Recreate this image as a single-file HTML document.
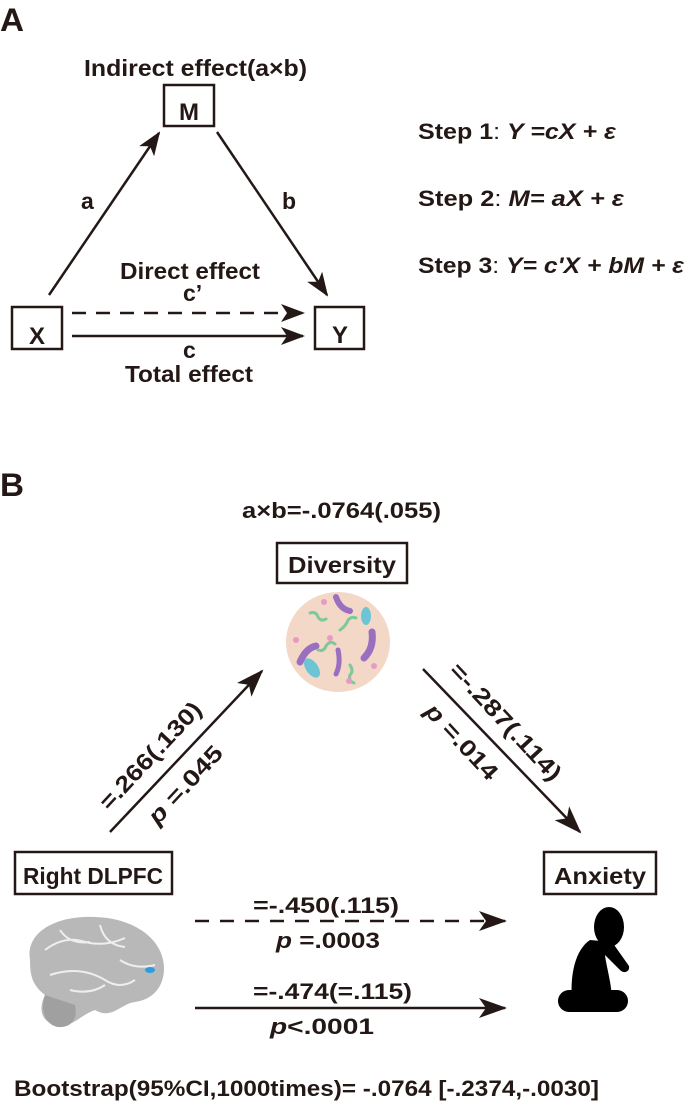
<!DOCTYPE html>
<html><head><meta charset="utf-8"><style>
html,body{margin:0;padding:0;background:#fff;}
svg{display:block;}
text{font-family:"Liberation Sans",sans-serif;font-weight:bold;fill:#231815;}
</style></head><body>
<svg width="685" height="1107" viewBox="0 0 685 1107" xmlns="http://www.w3.org/2000/svg">
<defs>
<marker id="ah" viewBox="0 0 24 18" refX="22" refY="9" markerWidth="24" markerHeight="18" markerUnits="userSpaceOnUse" orient="auto">
<path d="M0,0 L24,9 L0,18 L6,9 Z" fill="#231815"/>
</marker>
<marker id="ah2" viewBox="0 0 28 20" refX="26" refY="10" markerWidth="28" markerHeight="20" markerUnits="userSpaceOnUse" orient="auto">
<path d="M0,0 L28,10 L0,20 L7,10 Z" fill="#231815"/>
</marker>
</defs>
<g stroke="#231815" fill="none">
<text x="0" y="31" font-size="32" stroke="none" textLength="24" lengthAdjust="spacingAndGlyphs">A</text>
<rect x="164" y="85" width="50" height="41" stroke-width="2.5"/>
<rect x="12" y="307" width="50" height="42" stroke-width="2.5"/>
<rect x="315" y="307" width="49" height="42" stroke-width="2.5"/>
<line x1="49" y1="295" x2="159" y2="133" stroke-width="2.5" marker-end="url(#ah)"/>
<line x1="217" y1="132" x2="327" y2="295" stroke-width="2.5" marker-end="url(#ah)"/>
<line x1="72" y1="313" x2="303" y2="313" stroke-width="2.5" stroke-dasharray="14,10" marker-end="url(#ah)"/>
<line x1="72" y1="336" x2="303" y2="336" stroke-width="2.5" marker-end="url(#ah)"/>
</g>
<text x="84" y="76" font-size="23" textLength="223" lengthAdjust="spacingAndGlyphs">Indirect effect(a×b)</text>
<text x="189" y="120" font-size="24" text-anchor="middle" textLength="20" lengthAdjust="spacingAndGlyphs">M</text>
<text x="37" y="344" font-size="24" text-anchor="middle">X</text>
<text x="340" y="343" font-size="24" text-anchor="middle">Y</text>
<text x="81" y="209" font-size="23">a</text>
<text x="282" y="209" font-size="23">b</text>
<text x="120" y="279" font-size="23" textLength="140" lengthAdjust="spacingAndGlyphs">Direct effect</text>
<text x="183" y="301" font-size="23">c’</text>
<text x="183" y="358" font-size="23">c</text>
<text x="125" y="382" font-size="23" textLength="128" lengthAdjust="spacingAndGlyphs">Total effect</text>
<text x="418" y="139" font-size="22" textLength="198" lengthAdjust="spacingAndGlyphs">Step 1<tspan font-weight="normal">: </tspan><tspan font-style="italic">Y =cX  + ε</tspan></text>
<text x="418" y="206" font-size="22" textLength="206" lengthAdjust="spacingAndGlyphs">Step 2<tspan font-weight="normal">: </tspan><tspan font-style="italic">M=  aX + ε</tspan></text>
<text x="418" y="273" font-size="22" textLength="266" lengthAdjust="spacingAndGlyphs">Step 3<tspan font-weight="normal">:  </tspan><tspan font-style="italic">Y= c'X + bM + ε</tspan></text>

<text x="0" y="496" font-size="32" textLength="24" lengthAdjust="spacingAndGlyphs">B</text>
<text x="242" y="518" font-size="22" textLength="199" lengthAdjust="spacingAndGlyphs">a×b=-.0764(.055)</text>
<rect x="277" y="543" width="130" height="40" fill="none" stroke="#231815" stroke-width="2.5"/>
<text x="342" y="573" font-size="23" text-anchor="middle" textLength="108" lengthAdjust="spacingAndGlyphs">Diversity</text>
<ellipse cx="338" cy="642" rx="52" ry="50" fill="#f3d8c8"/>
<g stroke-linecap="round" fill="none">
<path d="M336,597 q4,12 14,14" stroke="#9b6fc0" stroke-width="6"/>
<path d="M300,662 q6,-14 16,-16" stroke="#9b6fc0" stroke-width="7"/>
<path d="M372,632 q2,16 -8,26" stroke="#9b6fc0" stroke-width="7"/>
<path d="M338,650 q3,14 -2,24" stroke="#9b6fc0" stroke-width="5"/>
<path d="M310,613 q6,-2 8,4 q3,5 8,2" stroke="#7cc99a" stroke-width="3"/>
<path d="M340,630 q6,-4 8,-10 q4,-4 8,-2" stroke="#7cc99a" stroke-width="3"/>
<path d="M318,650 q6,2 8,-4 q4,-6 9,-2" stroke="#7cc99a" stroke-width="3"/>
<path d="M350,665 q4,6 0,10 q-2,6 4,8" stroke="#7cc99a" stroke-width="3"/>
</g>
<ellipse cx="366" cy="616" rx="5" ry="9" fill="#6cc4d4"/>
<ellipse cx="312" cy="668" rx="6" ry="11" fill="#6cc4d4" transform="rotate(-35 312 668)"/>
<circle cx="324" cy="602" r="3" fill="#e79ac5"/><circle cx="349" cy="681" r="3" fill="#e79ac5"/><circle cx="374" cy="666" r="3" fill="#e79ac5"/><circle cx="296" cy="640" r="3" fill="#e79ac5"/><circle cx="330" cy="638" r="3" fill="#e79ac5"/>

<line x1="110" y1="832" x2="262" y2="671" stroke="#231815" stroke-width="2.5" marker-end="url(#ah2)"/>
<line x1="423" y1="669" x2="580" y2="832" stroke="#231815" stroke-width="2.5" marker-end="url(#ah2)"/>
<text font-size="23" text-anchor="middle" transform="translate(156,761) rotate(-47)" textLength="138" lengthAdjust="spacingAndGlyphs">=.266(.130)</text>
<text font-size="23" text-anchor="middle" transform="translate(191,790) rotate(-47)" textLength="98" lengthAdjust="spacingAndGlyphs"><tspan font-style="italic">p</tspan> =.045</text>
<text font-size="23" text-anchor="middle" transform="translate(500,727) rotate(47)" textLength="152" lengthAdjust="spacingAndGlyphs">=-.287(.114)</text>
<text font-size="23" text-anchor="middle" transform="translate(456,747) rotate(47)" textLength="95" lengthAdjust="spacingAndGlyphs"><tspan font-style="italic">p</tspan> =.014</text>

<rect x="15" y="852" width="157" height="42" fill="none" stroke="#231815" stroke-width="2.5"/>
<text x="93" y="884" font-size="23" text-anchor="middle" textLength="140" lengthAdjust="spacingAndGlyphs">Right DLPFC</text>
<rect x="544" y="852" width="112" height="42" fill="none" stroke="#231815" stroke-width="2.5"/>
<text x="600" y="884" font-size="23" text-anchor="middle" textLength="92" lengthAdjust="spacingAndGlyphs">Anxiety</text>

<line x1="195" y1="921" x2="505" y2="921" stroke="#231815" stroke-width="2.5" stroke-dasharray="14,11" marker-end="url(#ah2)"/>
<line x1="195" y1="1008" x2="505" y2="1008" stroke="#231815" stroke-width="2.5" marker-end="url(#ah2)"/>
<text x="253" y="913" font-size="22" textLength="146" lengthAdjust="spacingAndGlyphs">=-.450(.115)</text>
<text x="276" y="948" font-size="22" textLength="104" lengthAdjust="spacingAndGlyphs"><tspan font-style="italic">p</tspan> =.0003</text>
<text x="253" y="999" font-size="22" textLength="159" lengthAdjust="spacingAndGlyphs">=-.474(=.115)</text>
<text x="270" y="1034" font-size="22" textLength="104" lengthAdjust="spacingAndGlyphs"><tspan font-style="italic">p</tspan>&lt;.0001</text>

<path d="M30,960 C25,930 60,915 95,917 C135,918 165,940 164,970 C163,990 150,1000 135,1002 C120,1004 112,1020 95,1010 C80,1015 70,1030 55,1025 C38,1020 40,1005 45,995 C32,985 30,975 30,960 Z" fill="#b8b8b8"/>
<path d="M45,995 C40,1010 45,1025 58,1027 C72,1028 78,1018 75,1005 Z" fill="#a0a0a0"/>
<g stroke="#eeeeee" stroke-width="2" fill="none">
<path d="M45,950 q20,-15 40,-8 q20,5 40,-4"/><path d="M50,975 q30,-10 55,5 q15,10 30,0"/><path d="M60,930 q10,15 30,12"/><path d="M100,925 q5,20 25,22"/><path d="M70,990 q20,5 35,-5"/><path d="M120,960 q15,10 35,5"/>
</g>
<ellipse cx="150" cy="970" rx="5" ry="3" fill="#2a9de0"/>

<g fill="#000">
<ellipse cx="609" cy="927" rx="15" ry="20"/>
<path d="M590,940 C575,950 570,975 572,1000 L612,1000 C612,985 606,965 605,955 L620,970 C624,974 630,972 629,966 L612,942 Z"/>
<rect x="558" y="990" width="70" height="22" rx="11"/>
</g>

<text x="14" y="1096" font-size="22" textLength="585" lengthAdjust="spacingAndGlyphs">Bootstrap(95%CI,1000times)= -.0764 [-.2374,-.0030]</text>
</svg>
</body></html>
